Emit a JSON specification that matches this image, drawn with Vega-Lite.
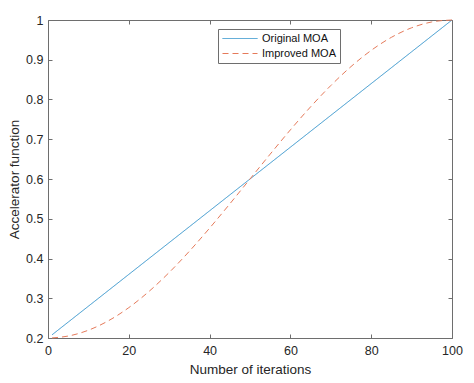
{
  "$schema": "https://vega.github.io/schema/vega-lite/v6.json",
  "width": 404,
  "height": 318,
  "autosize": "none",
  "padding": {"left": 48, "top": 20, "right": 22, "bottom": 45},
  "background": "white",
  "config": {
    "font": "Liberation Sans",
    "view": {"stroke": "#6E6E6E", "strokeWidth": 1},
    "axis": {
      "domain": false,
      "offset": -4,
      "tickColor": "#6E6E6E",
      "tickSize": 4,
      "labelColor": "#262626",
      "titleColor": "#262626",
      "labelFontSize": 12.5,
      "titleFontSize": 13.5,
      "titleFontWeight": "normal",
      "labelFlush": false,
      "grid": false
    }
  },
  "data": {
    "values": [
      {"t": 1, "v": 0.208, "s": "Original MOA"},
      {"t": 5, "v": 0.24, "s": "Original MOA"},
      {"t": 10, "v": 0.28, "s": "Original MOA"},
      {"t": 15, "v": 0.32, "s": "Original MOA"},
      {"t": 20, "v": 0.36, "s": "Original MOA"},
      {"t": 25, "v": 0.4, "s": "Original MOA"},
      {"t": 30, "v": 0.44, "s": "Original MOA"},
      {"t": 35, "v": 0.48, "s": "Original MOA"},
      {"t": 40, "v": 0.52, "s": "Original MOA"},
      {"t": 45, "v": 0.56, "s": "Original MOA"},
      {"t": 50, "v": 0.6, "s": "Original MOA"},
      {"t": 55, "v": 0.64, "s": "Original MOA"},
      {"t": 60, "v": 0.68, "s": "Original MOA"},
      {"t": 65, "v": 0.72, "s": "Original MOA"},
      {"t": 70, "v": 0.76, "s": "Original MOA"},
      {"t": 75, "v": 0.8, "s": "Original MOA"},
      {"t": 80, "v": 0.84, "s": "Original MOA"},
      {"t": 85, "v": 0.88, "s": "Original MOA"},
      {"t": 90, "v": 0.92, "s": "Original MOA"},
      {"t": 95, "v": 0.96, "s": "Original MOA"},
      {"t": 100, "v": 1.0, "s": "Original MOA"},
      {"t": 1, "v": 0.2002, "s": "Improved MOA"},
      {"t": 5, "v": 0.2049, "s": "Improved MOA"},
      {"t": 10, "v": 0.2196, "s": "Improved MOA"},
      {"t": 15, "v": 0.2436, "s": "Improved MOA"},
      {"t": 20, "v": 0.2764, "s": "Improved MOA"},
      {"t": 25, "v": 0.3172, "s": "Improved MOA"},
      {"t": 30, "v": 0.3649, "s": "Improved MOA"},
      {"t": 35, "v": 0.4184, "s": "Improved MOA"},
      {"t": 40, "v": 0.4764, "s": "Improved MOA"},
      {"t": 45, "v": 0.5374, "s": "Improved MOA"},
      {"t": 50, "v": 0.6, "s": "Improved MOA"},
      {"t": 55, "v": 0.6626, "s": "Improved MOA"},
      {"t": 60, "v": 0.7236, "s": "Improved MOA"},
      {"t": 65, "v": 0.7816, "s": "Improved MOA"},
      {"t": 70, "v": 0.8351, "s": "Improved MOA"},
      {"t": 75, "v": 0.8828, "s": "Improved MOA"},
      {"t": 80, "v": 0.9236, "s": "Improved MOA"},
      {"t": 85, "v": 0.9564, "s": "Improved MOA"},
      {"t": 90, "v": 0.9804, "s": "Improved MOA"},
      {"t": 95, "v": 0.9951, "s": "Improved MOA"},
      {"t": 100, "v": 1.0, "s": "Improved MOA"}
    ]
  },
  "layer": [
    {
      "mark": {"type": "line", "strokeWidth": 1, "interpolate": "monotone"},
      "encoding": {
        "x": {
          "field": "t", "type": "quantitative",
          "scale": {"domain": [0, 100], "nice": false},
          "axis": {"orient": "bottom", "title": "Number of iterations", "values": [0, 20, 40, 60, 80, 100], "labelPadding": 6, "titlePadding": 6}
        },
        "y": {
          "field": "v", "type": "quantitative",
          "scale": {"domain": [0.2, 1], "nice": false, "zero": false},
          "axis": {"orient": "left", "title": "Accelerator function", "values": [0.2, 0.3, 0.4, 0.5, 0.6, 0.7, 0.8, 0.9, 1], "format": "~g", "labelPadding": 5, "titlePadding": 4}
        },
        "color": {
          "field": "s", "type": "nominal",
          "scale": {"domain": ["Original MOA", "Improved MOA"], "range": ["#3394CC", "#E57A5A"]},
          "legend": {"orient": "none", "legendX": 170, "legendY": 9, "title": null, "strokeColor": "#6E6E6E", "fillColor": "white", "padding": 4, "symbolType": "stroke", "symbolSize": 1225, "clipHeight": 11, "symbolStrokeWidth": 1, "labelFontSize": 11, "labelColor": "#111111", "labelOffset": 4, "rowPadding": 3}
        },
        "strokeDash": {
          "field": "s", "type": "nominal",
          "scale": {"domain": ["Original MOA", "Improved MOA"], "range": [[1, 0], [6, 4]]},
          "legend": {"orient": "none", "legendX": 170, "legendY": 9, "title": null, "strokeColor": "#6E6E6E", "fillColor": "white", "padding": 4, "symbolType": "stroke", "symbolSize": 1225, "clipHeight": 11, "symbolStrokeWidth": 1, "labelFontSize": 11, "labelColor": "#111111", "labelOffset": 4, "rowPadding": 3}
        }
      }
    },
    {
      "mark": {"type": "line", "opacity": 0},
      "encoding": {
        "x": {"field": "t", "type": "quantitative", "axis": {"orient": "top", "title": null, "labels": false, "values": [0, 20, 40, 60, 80, 100]}},
        "y": {"field": "v", "type": "quantitative", "axis": {"orient": "right", "title": null, "labels": false, "values": [0.2, 0.3, 0.4, 0.5, 0.6, 0.7, 0.8, 0.9, 1]}},
        "detail": {"field": "s"}
      }
    }
  ],
  "resolve": {"axis": {"x": "independent", "y": "independent"}}
}
